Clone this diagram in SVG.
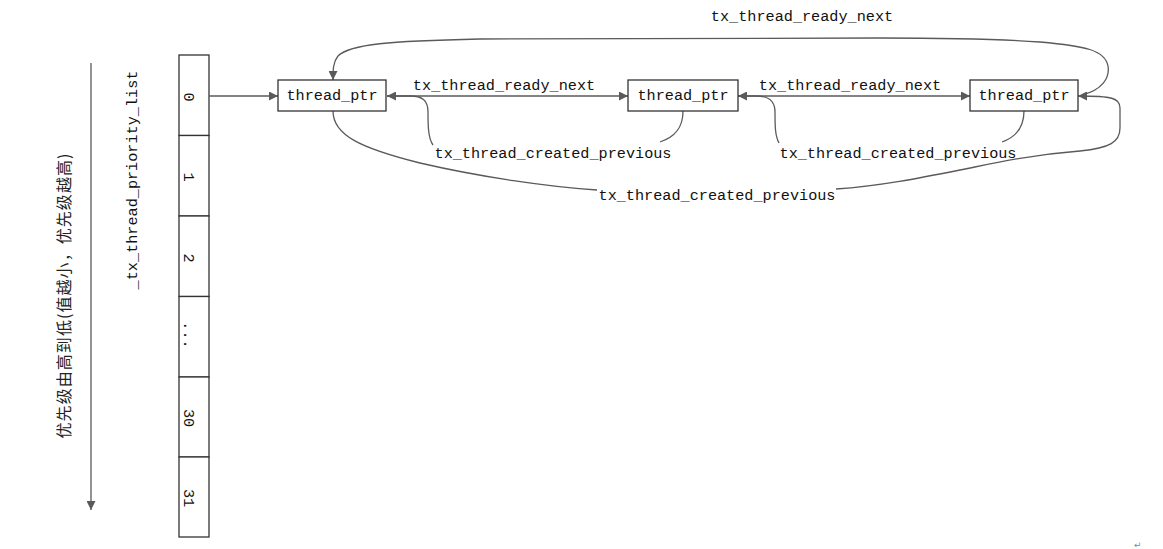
<svg xmlns="http://www.w3.org/2000/svg" width="1163" height="549" viewBox="0 0 1163 549">
<style>
.mono{font-family:"Liberation Mono","DejaVu Sans Mono",monospace;font-size:15.2px;fill:#111;}
.cn{font-family:"Noto Sans CJK SC","Noto Sans",sans-serif;font-size:16px;fill:#222;}
.box{fill:#fff;stroke:#333;stroke-width:1.3;}
.cell{fill:#fff;stroke:#333;stroke-width:1.3;}
.con{fill:none;stroke:#5a5a5a;stroke-width:1.3;}
</style>
<defs>
<marker id="ah" viewBox="0 0 10 10" refX="10" refY="5" markerWidth="9" markerHeight="9" markerUnits="userSpaceOnUse" orient="auto">
<path d="M0,0 L10,5 L0,10 z" fill="#5a5a5a"/>
</marker>
</defs>
<rect width="1163" height="549" fill="#fff"/>

<g id="axis">
<line x1="91" y1="63" x2="91" y2="510" class="con" stroke="#777" marker-end="url(#ah)"/>
<text class="cn" transform="translate(70,296) rotate(-90)" text-anchor="middle" textLength="285" lengthAdjust="spacing">优先级由高到低(值越小，优先级越高)</text>
</g>

<g id="priority_list_label">
<text class="mono" transform="translate(137,180) rotate(-90)" text-anchor="middle">_tx_thread_priority_list</text>
</g>

<g id="priority_list">
<rect class="cell" x="179" y="55" width="30" height="80.5"/>
<rect class="cell" x="179" y="135.5" width="30" height="80.5"/>
<rect class="cell" x="179" y="216" width="30" height="80.5"/>
<rect class="cell" x="179" y="296.5" width="30" height="80.5"/>
<rect class="cell" x="179" y="377" width="30" height="80"/>
<rect class="cell" x="179" y="457" width="30" height="80"/>
<text class="mono" transform="translate(184,97) rotate(90)" text-anchor="middle">0</text>
<text class="mono" transform="translate(184,177) rotate(90)" text-anchor="middle">1</text>
<text class="mono" transform="translate(184,258) rotate(90)" text-anchor="middle">2</text>
<text class="mono" transform="translate(184,335) rotate(90)" text-anchor="middle">...</text>
<text class="mono" transform="translate(184,418) rotate(90)" text-anchor="middle">30</text>
<text class="mono" transform="translate(184,498) rotate(90)" text-anchor="middle">31</text>
</g>

<g id="connectors">
<path class="con" d="M209,96 L278,96" marker-end="url(#ah)"/>
<path class="con" d="M387,96 L628,96" marker-end="url(#ah)"/>
<path class="con" d="M738,96 L970,96" marker-end="url(#ah)"/>
<path class="con" d="M683,111 C683,128 675,137 660,142"/>
<path class="con" d="M433,145 C428,138 428,125 428,112 C428,100 422,96 410,96 L387,96" marker-end="url(#ah)"/>
<path class="con" d="M1024,111 C1024,128 1016,137 1002,142"/>
<path class="con" d="M779,143 C775,136 775,125 775,112 C775,100 768,96 756,96 L738,96" marker-end="url(#ah)"/>
<path class="con" d="M1082,95 C1102,90 1110,78 1108,66 C1105,50 1085,46 1040,42 C1000,39 940,38 880,38 L480,39 C390,41 350,44 338,56 C333,62 333,70 333,80" marker-end="url(#ah)"/>
<path class="con" d="M333,111 C333,135 360,148 420,163 C480,177 550,187 597,190"/>
<path class="con" d="M836,189 C880,186 920,178 960,170 C1000,162 1030,155 1080,151 C1110,148 1120,142 1120,128 L1120,108 C1120,98 1112,96 1078,96" marker-end="url(#ah)"/>
<text class="mono" x="802" y="21" text-anchor="middle">tx_thread_ready_next</text>
<text class="mono" x="504" y="90" text-anchor="middle">tx_thread_ready_next</text>
<text class="mono" x="850" y="90" text-anchor="middle">tx_thread_ready_next</text>
<text class="mono" x="553" y="158" text-anchor="middle">tx_thread_created_previous</text>
<text class="mono" x="898" y="158" text-anchor="middle">tx_thread_created_previous</text>
<text class="mono" x="717" y="200" text-anchor="middle">tx_thread_created_previous</text>
</g>

<g id="node1">
<rect class="box" x="278" y="80" width="108" height="31"/>
<text class="mono" x="332" y="100" text-anchor="middle">thread_ptr</text>
</g>
<g id="node2">
<rect class="box" x="628" y="80" width="110" height="31"/>
<text class="mono" x="683" y="100" text-anchor="middle">thread_ptr</text>
</g>
<g id="node3">
<rect class="box" x="970" y="80" width="108" height="31"/>
<text class="mono" x="1024" y="100" text-anchor="middle">thread_ptr</text>
</g>

<text x="1134" y="548" font-family="DejaVu Sans,sans-serif" font-size="9" fill="#888">↵</text>
</svg>
